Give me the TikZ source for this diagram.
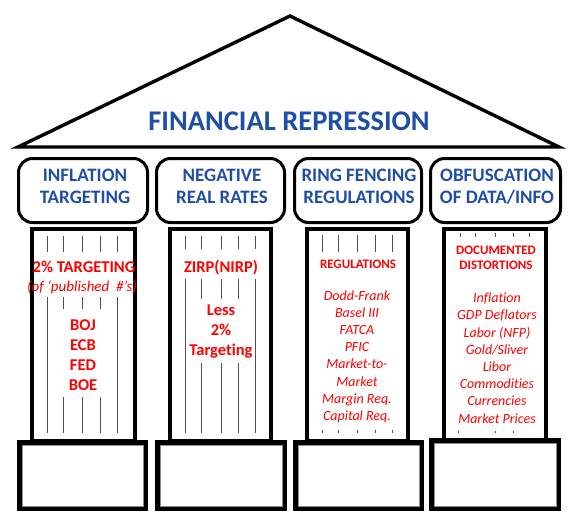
\documentclass[tikz,border=0pt]{standalone}
\usepackage{fontspec}
\setmainfont{Carlito}[Ligatures=NoCommon]
\usetikzlibrary{positioning}
\definecolor{capblue}{HTML}{1F4EA8}
\definecolor{txtred}{HTML}{FF0000}
\definecolor{flute}{HTML}{505050}
\tikzset{
  captext/.style={font=\fontsize{19}{22}\selectfont\bfseries,text=capblue,align=center,anchor=base,inner sep=0pt},
  redbig/.style={font=\fontsize{16.5}{20}\selectfont\bfseries,text=txtred,align=center,anchor=base,inner sep=0pt},
  redsmall/.style={font=\fontsize{13}{15}\selectfont\bfseries,text=txtred,align=center,anchor=base,inner sep=0pt},
  redlist/.style={font=\fontsize{14}{17.2}\selectfont\itshape,text=txtred,align=center,anchor=base,inner sep=0pt},
}

\begin{document}
\begin{tikzpicture}[x=1pt,y=-1pt]
  \useasboundingbox (0,0) rectangle (583,525);
  % roof
  \draw[line width=3.4pt,line join=miter] (18,147)--(290,16)--(559,147)--cycle;
  \node[font=\fontsize{28.5}{30}\selectfont\bfseries,text=capblue,anchor=base,inner sep=0pt]
    (title) at (289,130) {FINANCIAL REPRESSION};
  % capitals
  \foreach \xl/\xr in {18.5/147.5,156.5/284.5,294.5/421.5,430.5/560.5}
    \draw[line width=3pt,rounded corners=14pt] (\xl,158.5) rectangle (\xr,222.5);
  % shafts
  \foreach \xl/\xr in {32/135,170/271,307/408,444/546}
    \draw[line width=4pt,fill=white] (\xl,229) rectangle (\xr,441);
  % flutes
  \foreach \x in {47,63,82,100,117,185,201,221,238,255}
    \draw[flute,line width=1pt] (\x,236)--(\x,433);
  \foreach \x in {322,338,357,375,392}{
    \draw[flute,line width=1pt] (\x,235)--(\x,252);
    \draw[flute,line width=0.8pt] (\x,430)--(\x,433);}
  \foreach \x in {460,475,495,513,529}
    \draw[flute,line width=0.8pt] (\x,233)--(\x,237);
  \foreach \x in {458,495,513}
    \draw[flute,line width=0.8pt] (\x,431)--(\x,433);
  % white behind labels
  \fill[white] (34.5,252) rectangle (132.5,297);
  \fill[white] (56,309) rectangle (110,397);
  \fill[white] (172.5,249) rectangle (268.5,279);
  \fill[white] (194,299) rectangle (247,363);
  % bases
  \foreach \xl/\xr/\yt in {17/148/440,155/287/440,293/424/440,429/561/438}{
    \draw[line width=4.5pt,fill=white] (\xl+2.25,\yt+2.25) rectangle (\xr-2.25,508.75);
    \draw[black!45,line width=0.8pt] (\xl+4.9,\yt+4.9) rectangle (\xr-4.9,506.1);}
  % capital labels (base = last line)
  \node[captext] (infl) at (85,203) {INFLATION\\TARGETING};
  \node[captext] (negr) at (222,203) {NEGATIVE\\REAL RATES};
  \node[captext] (ring) at (359,203) {RING FENCING\\REGULATIONS};
  \node[captext] (obfu) at (497,203) {OBFUSCATION\\OF DATA/INFO};
  % pillar 1
  \node[redbig] (tgt) at (84,272.5) {2\% TARGETING};
  \node[font=\fontsize{15}{18}\selectfont\itshape,text=txtred,anchor=base,inner sep=0pt]
    (publ) at (82,291) {(of ‘published\ \ \#’s)};
  \node[redbig] (cb) at (83,390) {BOJ\\ECB\\FED\\BOE};
  % pillar 2
  \node[redbig] (zirp) at (221,272) {ZIRP(NIRP)};
  \node[redbig] (less) at (221,355) {Less\\2\%\\Targeting};
  % pillar 3
  \node[redsmall] (regs) at (358,268) {REGULATIONS};
  \node[redlist] (rlist) at (357,420.4)
    {Dodd-Frank\\Basel III\\FATCA\\PFIC\\Market-to-\\Market\\Margin Req.\\Capital Req.};
  % pillar 4
  \node[redsmall] (docs) at (496,269) {DOCUMENTED\\DISTORTIONS};
  \node[redlist] (dlist) at (497,423)
    {Inflation\\GDP Deflators\\Labor (NFP)\\Gold/Sliver\\Libor\\Commodities\\Currencies\\Market Prices};
\end{tikzpicture}
\end{document}
